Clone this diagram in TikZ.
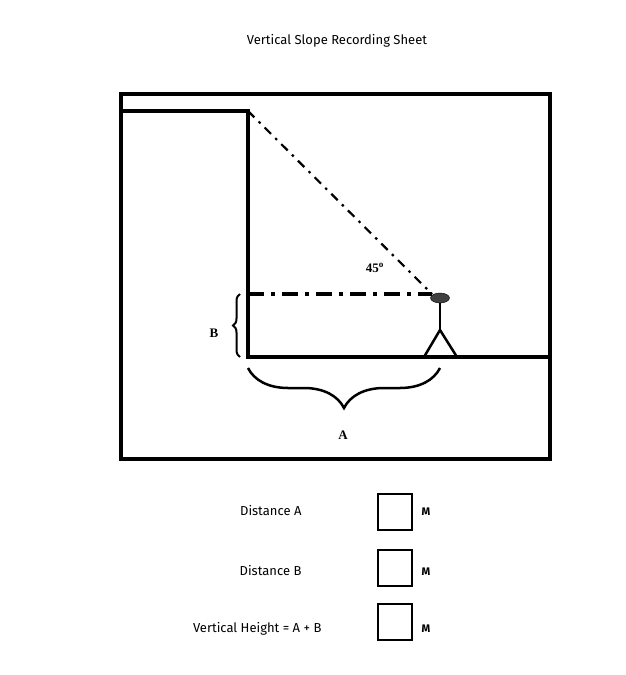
\documentclass[tikz,border=0pt]{standalone}
\usepackage{fontspec}
\setmainfont{Liberation Serif}
\newfontfamily\lab{Fira Sans}
\usetikzlibrary{decorations.pathreplacing,shapes.geometric}
\begin{document}
\begin{tikzpicture}[x=1pt,y=-1pt,
  heavy/.style={line width=4.5pt},
  wall/.style={line width=4pt},
  lbl/.style={font=\lab\fontsize{13}{15}\selectfont},
  mlbl/.style={font=\lab\bfseries\fontsize{11}{13}\selectfont},
  ans/.style={draw,line width=2.5pt,minimum width=34pt,minimum height=36pt,inner sep=0pt}]
\useasboundingbox (0,0) rectangle (625,675);
\node[lbl] (title) at (337,41) {Vertical Slope Recording Sheet};
\draw[heavy] (121,94) rectangle (550,459);
\coordinate (ct) at (248,111);
\coordinate (gb) at (248,357);
\draw[wall] (121,111) -- (ct) -- (gb) -- (550,357);
\coordinate (eye) at (432,294);
\draw[line width=4pt, dash pattern=on 16pt off 7pt on 4pt off 7pt] (248,294) -- (eye);
\draw[line width=2.2pt, dash pattern=on 9pt off 6pt on 2.5pt off 6pt] (ct) -- (eye);
\node[font=\bfseries\fontsize{13}{15}\selectfont] (ang) at (375,268) {45\textsuperscript{o}};
\node[draw,fill=black!75,ellipse,minimum width=19pt,minimum height=10pt,inner sep=0pt] (head) at (440,298) {};
\draw[line width=2.5pt] (head.south) -- (440,330) coordinate (hip);
\draw[line width=2.5pt] (424,357) -- (hip) -- (457,357);
\draw[line width=2pt,decorate,decoration={brace,amplitude=7pt}] (240,357) -- (240,294);
\node[font=\bfseries\fontsize{13}{15}\selectfont] (B) at (214,333) {B};
\draw[line width=2.5pt,decorate,decoration={brace,amplitude=40pt,aspect=0.5}] (440,368) -- (248,368);
\node[font=\bfseries\fontsize{13}{15}\selectfont] (A) at (343,435) {A};
\node[lbl,anchor=east] (la) at (305,511) {Distance A};
\node[lbl,anchor=east] (lb) at (305,571) {Distance B};
\node[lbl,anchor=east] (lc) at (325,629) {Vertical Height = A + B};
\node[ans] (ba) at (395,512) {};
\node[ans] (bb) at (395,568) {};
\node[ans] (bc) at (395,622) {};
\node[mlbl] (ma) at (426,512) {M};
\node[mlbl] (mb) at (426,572) {M};
\node[mlbl] (mc) at (426,629) {M};
\end{tikzpicture}
\end{document}
